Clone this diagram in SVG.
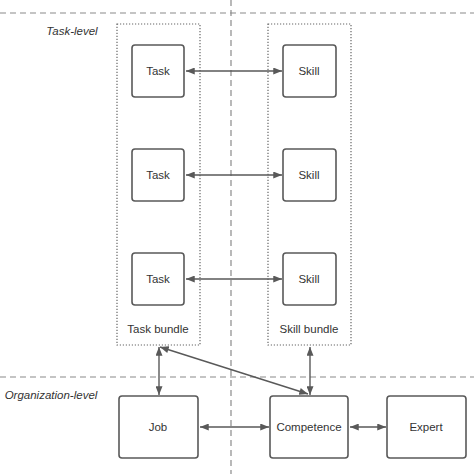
<svg xmlns="http://www.w3.org/2000/svg" width="474" height="474" viewBox="0 0 474 474">
  <defs>
    <marker id="arr" viewBox="0 0 10 8" refX="10" refY="4" markerWidth="9" markerHeight="7" markerUnits="userSpaceOnUse" orient="auto-start-reverse">
      <path d="M0,0 L10,4 L0,8 Z" fill="#595959"/>
    </marker>
  </defs>
  <style>
    .lvl { stroke:#8a8a8a; stroke-width:1.2; stroke-dasharray:6 4; fill:none; }
    .bundle { stroke:#666; stroke-width:1.2; stroke-dasharray:1.2 1.8; fill:none; }
    .box { fill:#fff; stroke:#595959; stroke-width:1.6; }
    .lbl { font-family:"Liberation Sans", Arial, sans-serif; font-size:11.5px; fill:#333; text-anchor:middle; }
    .it { font-family:"Liberation Sans", Arial, sans-serif; font-size:11.5px; fill:#333; font-style:italic; text-anchor:middle; }
    .con { stroke:#595959; stroke-width:1.4; fill:none; marker-start:url(#arr); marker-end:url(#arr); }
  </style>
  <rect width="474" height="474" fill="#fff"/>
  <g id="levels">
    <line class="lvl" x1="0" y1="13" x2="474" y2="13"/>
    <line class="lvl" x1="0" y1="377" x2="474" y2="377"/>
    <line class="lvl" x1="231" y1="0" x2="231" y2="474"/>
    <text class="it" x="72" y="35">Task-level</text>
    <text class="it" x="51" y="399">Organization-level</text>
  </g>
  <g id="task-bundle">
    <rect class="bundle" x="117" y="24" width="83" height="321"/>
    <text class="lbl" x="158" y="333">Task bundle</text>
  </g>
  <g id="skill-bundle">
    <rect class="bundle" x="268" y="24" width="83" height="321"/>
    <text class="lbl" x="309" y="333">Skill bundle</text>
  </g>
  <g id="task1"><rect class="box" x="132" y="45" width="52" height="52" rx="3"/><text class="lbl" x="158" y="75">Task</text></g>
  <g id="task2"><rect class="box" x="132" y="149" width="52" height="52" rx="3"/><text class="lbl" x="158" y="179">Task</text></g>
  <g id="task3"><rect class="box" x="132" y="253" width="52" height="52" rx="3"/><text class="lbl" x="158" y="283">Task</text></g>
  <g id="skill1"><rect class="box" x="283" y="45" width="53" height="52" rx="3"/><text class="lbl" x="309" y="75">Skill</text></g>
  <g id="skill2"><rect class="box" x="283" y="149" width="53" height="52" rx="3"/><text class="lbl" x="309" y="179">Skill</text></g>
  <g id="skill3"><rect class="box" x="283" y="253" width="53" height="52" rx="3"/><text class="lbl" x="309" y="283">Skill</text></g>
  <g id="job"><rect class="box" x="119" y="396" width="79" height="62" rx="3"/><text class="lbl" x="158" y="431">Job</text></g>
  <g id="competence"><rect class="box" x="270" y="396" width="78" height="62" rx="3"/><text class="lbl" x="309" y="431">Competence</text></g>
  <g id="expert"><rect class="box" x="387" y="396" width="79" height="62" rx="3"/><text class="lbl" x="426" y="431">Expert</text></g>
  <g id="connectors">
    <line class="con" x1="186" y1="71" x2="282" y2="71"/>
    <line class="con" x1="186" y1="175" x2="282" y2="175"/>
    <line class="con" x1="186" y1="279" x2="282" y2="279"/>
    <line class="con" x1="159" y1="347" x2="159" y2="395"/>
    <line class="con" x1="310" y1="347" x2="310" y2="395"/>
    <line class="con" x1="160" y1="347" x2="308" y2="394"/>
    <line class="con" x1="200" y1="427" x2="269" y2="427"/>
    <line class="con" x1="350" y1="427" x2="386" y2="427"/>
  </g>
</svg>
